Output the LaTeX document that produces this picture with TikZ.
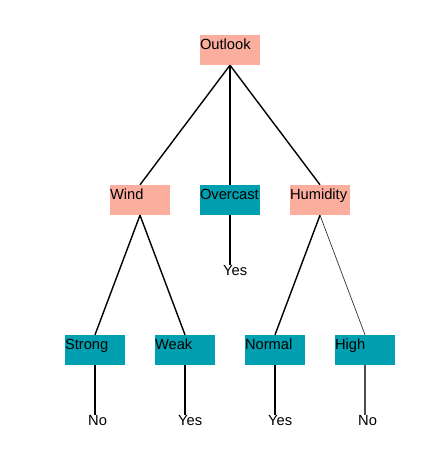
\documentclass[tikz,border=0pt]{standalone}
\usepackage{fontspec}
\setmainfont{Liberation Sans}
\definecolor{splitpink}{RGB}{252,174,158}
\definecolor{finalteal}{RGB}{0,160,176}
\begin{document}
\begin{tikzpicture}[x=1pt,y=-1pt,
  split/.style={fill=splitpink,inner sep=0pt,text width=60pt,text height=14pt,text depth=16pt,align=left,font=\fontsize{14.7}{16}\selectfont},
  final/.style={split,fill=finalteal},
  answer/.style={anchor=base west,inner sep=0pt,font=\fontsize{14.7}{16}\selectfont},
  edge/.style={line width=1.4pt}]
\useasboundingbox (0,0) rectangle (441,456);
\node[split] (outlook) at (230,50) {Outlook};
\node[split] (wind) at (140,200) {Wind};
\node[final] (overcast) at (230,200) {Overcast};
\node[split] (humidity) at (320,200) {Humidity};
\node[answer] (overcast-ans) at (223,275) {Yes};
\foreach \x/\name/\txt/\ans/\col in {95/strong/Strong/No/black,185/weak/Weak/Yes/black,275/normal/Normal/Yes/black,365/high/High/No/black!70}
{
    \node[final] (\name) at (\x,350) {\txt};
    \node[answer] (\name-ans) at (\x-7,425) {\ans};
    \draw[edge,\col] (\name.south)--(\name.south |- \name-ans.north);
}
\draw[edge] (outlook.south)--(wind.north);
\draw[edge] (outlook.south)--(overcast.north);
\draw[edge] (outlook.south)--(humidity.north);
\draw[edge] (overcast.south)--(overcast.south |- overcast-ans.north);
\draw[edge] (wind.south)--(strong.north);
\draw[edge] (wind.south)--(weak.north);
\draw[edge] (humidity.south)--(normal.north);
\draw[line width=.7pt,black!80] (humidity.south)--(high.north);
\end{tikzpicture}
\end{document}
